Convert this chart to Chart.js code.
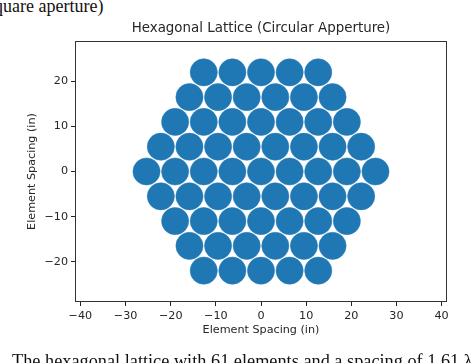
<!DOCTYPE html>
<html>
<head>
<meta charset="utf-8">
<script src="https://cdn.jsdelivr.net/npm/chart.js@4/dist/chart.umd.min.js"></script>
<style>
  html, body { margin: 0; padding: 0; background: #fff; overflow: hidden; }
  #wrap { position: relative; width: 474px; height: 363px; overflow: hidden; }
  #chart { position: absolute; left: 0; top: 0; }
  .cap { position: absolute; font-family: "Liberation Serif", serif; color: #111; white-space: nowrap; }
  #capTop { left: 0; top: -3px; font-size: 18px; line-height: 18px; }
  #capBottom { left: -39px; top: 352px; font-size: 18.3px; line-height: 18px; }
</style>
</head>
<body>
<div id="wrap">
  <div class="cap" id="capTop"><span id="capCut">(sq</span>uare aperture)</div>
  <canvas id="chart" width="474" height="363"></canvas>
  <div class="cap" id="capBottom"><span id="capLead">Fig. 1. </span>The hexagonal lattice with 61 elements and a spacing of 1.61 λ</div>
</div>
<script>
// element rows of the lattice, top to bottom (inches)
const rowY = [21.96, 16.47, 10.98, 5.49, 0, -5.49, -10.98, -16.47, -21.96];
const rowX = [
    [-12.68, -6.34, 0, 6.34, 12.68],
    [-15.85, -9.51, -3.17, 3.17, 9.51, 15.85],
    [-19.02, -12.68, -6.34, 0, 6.34, 12.68, 19.02],
    [-22.19, -15.85, -9.51, -3.17, 3.17, 9.51, 15.85, 22.19],
    [-25.36, -19.02, -12.68, -6.34, 0, 6.34, 12.68, 19.02, 25.36],
    [-22.19, -15.85, -9.51, -3.17, 3.17, 9.51, 15.85, 22.19],
    [-19.02, -12.68, -6.34, 0, 6.34, 12.68, 19.02],
    [-15.85, -9.51, -3.17, 3.17, 9.51, 15.85],
    [-12.68, -6.34, 0, 6.34, 12.68]
];
const xTicks = [-40, -30, -20, -10, 0, 10, 20, 30, 40];
const yTicks = [-20, -10, 0, 10, 20];

// place the cut-off caption lines so the visible part starts where it does in the picture
document.getElementById('capTop').style.left = (3 - document.getElementById('capCut').getBoundingClientRect().width) + 'px';
document.getElementById('capBottom').style.left = (12 - document.getElementById('capLead').getBoundingClientRect().width) + 'px';

const points = [];
rowY.forEach(function(y, i) {
    rowX[i].forEach(function(x) { points.push({ x: x, y: y }); });
});

const txt = '#262626';
const minus = function(v) { return String(v).replace('-', '\u2212'); };

const labels = {
    id: 'labels',
    afterDraw: function(chart) {
        const ctx = chart.ctx;
        const a = chart.chartArea;
        ctx.save();
        ctx.strokeStyle = '#333';
        ctx.lineWidth = 1;
        ctx.strokeRect(a.left + 0.5, a.top + 0.5, a.right - a.left - 1, a.bottom - a.top - 1);
        ctx.fillStyle = txt;
        ctx.textAlign = 'center';
        ctx.textBaseline = 'middle';
        ctx.font = '13.4px "DejaVu Sans"';
        ctx.fillText('Hexagonal Lattice (Circular Apperture)', (a.left + a.right) / 2, 29);
        ctx.font = '11.2px "DejaVu Sans"';
        ctx.fillText('Element Spacing (in)', (a.left + a.right) / 2, 330);
        ctx.translate(32, (a.top + a.bottom) / 2);
        ctx.rotate(-Math.PI / 2);
        ctx.fillText('Element Spacing (in)', 0, 0);
        ctx.restore();
    }
};

new Chart(document.getElementById('chart'), {
    type: 'scatter',
    data: {
        datasets: [{
            data: points,
            backgroundColor: '#1f77b4',
            borderColor: '#2a7fba',
            borderWidth: 0.5,
            pointRadius: 13.6,
            pointHoverRadius: 13.6
        }]
    },
    options: {
        responsive: false,
        animation: false,
        devicePixelRatio: 1,
        layout: { padding: { top: 41, right: 27, left: 0, bottom: 0 } },
        plugins: { legend: { display: false }, tooltip: { enabled: false }, title: { display: false } },
        scales: {
            x: {
                type: 'linear',
                min: -41.2,
                max: 41.2,
                afterBuildTicks: function(s) { s.ticks = xTicks.map(v => ({ value: v })); },
                afterFit: function(s) { s.height = 61; },
                grid: { drawOnChartArea: false, drawTicks: true, tickLength: 4, color: '#222' },
                border: { display: false },
                ticks: { color: txt, font: { family: 'DejaVu Sans', size: 11.2 }, padding: 3, maxRotation: 0, callback: minus }
            },
            y: {
                type: 'linear',
                min: -28.9,
                max: 28.9,
                afterBuildTicks: function(s) { s.ticks = yTicks.map(v => ({ value: v })); },
                afterFit: function(s) { s.width = 75; },
                grid: { drawOnChartArea: false, drawTicks: true, tickLength: 4, color: '#222' },
                border: { display: false },
                ticks: { color: txt, font: { family: 'DejaVu Sans', size: 11.2 }, padding: 3, callback: minus }
            }
        }
    },
    plugins: [labels]
});
</script>
</body>
</html>
